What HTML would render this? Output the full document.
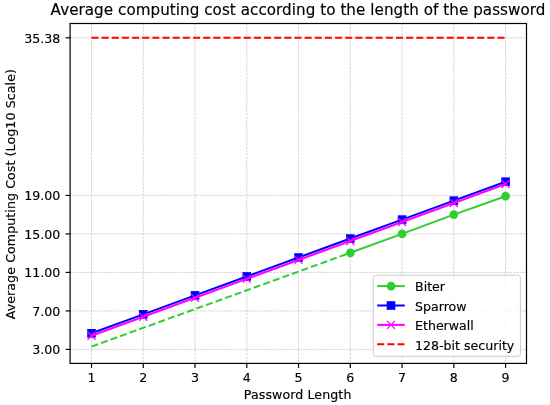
<!DOCTYPE html>
<html><head><meta charset="utf-8"><title>Average computing cost</title>
<style>
html,body{margin:0;padding:0;background:#fff;}
body{width:550px;height:405px;overflow:hidden;}
svg{display:block;filter:blur(0.45px);}
text{font-family:"DejaVu Sans","Liberation Sans",sans-serif;fill:#000;stroke:#000;stroke-width:0.15;}
.tk{font-size:12.6px;}
.ti{font-size:15.15px;}
.gr{stroke:#b0b0b0;stroke-width:0.55;stroke-dasharray:2.33 1.0;fill:none;}
.sp{stroke:#000;stroke-width:1.2;fill:none;}
</style></head><body>
<svg width="550" height="405" viewBox="0 0 550 405">
<rect x="0" y="0" width="550" height="405" fill="#ffffff"/>

<line class="gr" x1="91.50" y1="23.50" x2="91.50" y2="363.40"/>
<line class="gr" x1="143.26" y1="23.50" x2="143.26" y2="363.40"/>
<line class="gr" x1="195.02" y1="23.50" x2="195.02" y2="363.40"/>
<line class="gr" x1="246.78" y1="23.50" x2="246.78" y2="363.40"/>
<line class="gr" x1="298.54" y1="23.50" x2="298.54" y2="363.40"/>
<line class="gr" x1="350.30" y1="23.50" x2="350.30" y2="363.40"/>
<line class="gr" x1="402.06" y1="23.50" x2="402.06" y2="363.40"/>
<line class="gr" x1="453.82" y1="23.50" x2="453.82" y2="363.40"/>
<line class="gr" x1="505.58" y1="23.50" x2="505.58" y2="363.40"/>
<line class="gr" x1="70.10" y1="349.40" x2="526.50" y2="349.40"/>
<line class="gr" x1="70.10" y1="310.91" x2="526.50" y2="310.91"/>
<line class="gr" x1="70.10" y1="272.42" x2="526.50" y2="272.42"/>
<line class="gr" x1="70.10" y1="233.92" x2="526.50" y2="233.92"/>
<line class="gr" x1="70.10" y1="195.43" x2="526.50" y2="195.43"/>
<line class="gr" x1="70.10" y1="37.81" x2="526.50" y2="37.81"/>
<line x1="91.50" y1="37.81" x2="505.58" y2="37.81" stroke="#ff0000" stroke-width="2.0" stroke-dasharray="7 3.15"/>
<line x1="91.50" y1="346.60" x2="350.30" y2="252.80" stroke="#32cd32" stroke-width="2.0" stroke-dasharray="7 3.15"/>
<polyline fill="none" stroke="#32cd32" stroke-width="2.0" points="350.30,252.80 402.06,233.90 453.82,214.60 505.58,196.20"/>
<circle cx="350.30" cy="252.80" r="4.35" fill="#32cd32"/>
<circle cx="402.06" cy="233.90" r="4.35" fill="#32cd32"/>
<circle cx="453.82" cy="214.60" r="4.35" fill="#32cd32"/>
<circle cx="505.58" cy="196.20" r="4.35" fill="#32cd32"/>
<polyline fill="none" stroke="#0000ff" stroke-width="2.0" points="91.50,333.30 143.26,314.35 195.02,295.40 246.78,276.45 298.54,257.50 350.30,238.55 402.06,219.60 453.82,200.65 505.58,181.70"/>
<rect x="87.20" y="329.00" width="8.6" height="8.6" fill="#0000ff"/>
<rect x="138.96" y="310.05" width="8.6" height="8.6" fill="#0000ff"/>
<rect x="190.72" y="291.10" width="8.6" height="8.6" fill="#0000ff"/>
<rect x="242.48" y="272.15" width="8.6" height="8.6" fill="#0000ff"/>
<rect x="294.24" y="253.20" width="8.6" height="8.6" fill="#0000ff"/>
<rect x="346.00" y="234.25" width="8.6" height="8.6" fill="#0000ff"/>
<rect x="397.76" y="215.30" width="8.6" height="8.6" fill="#0000ff"/>
<rect x="449.52" y="196.35" width="8.6" height="8.6" fill="#0000ff"/>
<rect x="501.28" y="177.40" width="8.6" height="8.6" fill="#0000ff"/>
<polyline fill="none" stroke="#ff00ff" stroke-width="2.1" points="91.50,335.80 143.26,316.82 195.02,297.85 246.78,278.88 298.54,259.90 350.30,240.93 402.06,221.95 453.82,202.97 505.58,184.00"/>
<path d="M87.50 331.80l8 8m0 -8l-8 8" stroke="#ff00ff" stroke-width="1.26" fill="none"/>
<path d="M139.26 312.82l8 8m0 -8l-8 8" stroke="#ff00ff" stroke-width="1.26" fill="none"/>
<path d="M191.02 293.85l8 8m0 -8l-8 8" stroke="#ff00ff" stroke-width="1.26" fill="none"/>
<path d="M242.78 274.88l8 8m0 -8l-8 8" stroke="#ff00ff" stroke-width="1.26" fill="none"/>
<path d="M294.54 255.90l8 8m0 -8l-8 8" stroke="#ff00ff" stroke-width="1.26" fill="none"/>
<path d="M346.30 236.93l8 8m0 -8l-8 8" stroke="#ff00ff" stroke-width="1.26" fill="none"/>
<path d="M398.06 217.95l8 8m0 -8l-8 8" stroke="#ff00ff" stroke-width="1.26" fill="none"/>
<path d="M449.82 198.97l8 8m0 -8l-8 8" stroke="#ff00ff" stroke-width="1.26" fill="none"/>
<path d="M501.58 180.00l8 8m0 -8l-8 8" stroke="#ff00ff" stroke-width="1.26" fill="none"/>
<rect class="sp" x="70.10" y="23.50" width="456.40" height="339.90"/>
<line class="sp" x1="91.50" y1="363.40" x2="91.50" y2="367.90"/>
<text class="tk" x="91.50" y="382.0" text-anchor="middle">1</text>
<line class="sp" x1="143.26" y1="363.40" x2="143.26" y2="367.90"/>
<text class="tk" x="143.26" y="382.0" text-anchor="middle">2</text>
<line class="sp" x1="195.02" y1="363.40" x2="195.02" y2="367.90"/>
<text class="tk" x="195.02" y="382.0" text-anchor="middle">3</text>
<line class="sp" x1="246.78" y1="363.40" x2="246.78" y2="367.90"/>
<text class="tk" x="246.78" y="382.0" text-anchor="middle">4</text>
<line class="sp" x1="298.54" y1="363.40" x2="298.54" y2="367.90"/>
<text class="tk" x="298.54" y="382.0" text-anchor="middle">5</text>
<line class="sp" x1="350.30" y1="363.40" x2="350.30" y2="367.90"/>
<text class="tk" x="350.30" y="382.0" text-anchor="middle">6</text>
<line class="sp" x1="402.06" y1="363.40" x2="402.06" y2="367.90"/>
<text class="tk" x="402.06" y="382.0" text-anchor="middle">7</text>
<line class="sp" x1="453.82" y1="363.40" x2="453.82" y2="367.90"/>
<text class="tk" x="453.82" y="382.0" text-anchor="middle">8</text>
<line class="sp" x1="505.58" y1="363.40" x2="505.58" y2="367.90"/>
<text class="tk" x="505.58" y="382.0" text-anchor="middle">9</text>
<line class="sp" x1="65.60" y1="349.40" x2="70.10" y2="349.40"/>
<text class="tk" x="60.4" y="354.35" text-anchor="end">3.00</text>
<line class="sp" x1="65.60" y1="310.91" x2="70.10" y2="310.91"/>
<text class="tk" x="60.4" y="315.86" text-anchor="end">7.00</text>
<line class="sp" x1="65.60" y1="272.42" x2="70.10" y2="272.42"/>
<text class="tk" x="60.4" y="277.37" text-anchor="end">11.00</text>
<line class="sp" x1="65.60" y1="233.92" x2="70.10" y2="233.92"/>
<text class="tk" x="60.4" y="238.87" text-anchor="end">15.00</text>
<line class="sp" x1="65.60" y1="195.43" x2="70.10" y2="195.43"/>
<text class="tk" x="60.4" y="200.38" text-anchor="end">19.00</text>
<line class="sp" x1="65.60" y1="37.81" x2="70.10" y2="37.81"/>
<text class="tk" x="60.4" y="42.76" text-anchor="end">35.38</text>
<text class="ti" x="298" y="14.55" text-anchor="middle" textLength="494.8">Average computing cost according to the length of the password</text>
<text class="tk" x="297.6" y="399.4" text-anchor="middle" textLength="107.6">Password Length</text>
<text class="tk" transform="translate(15.3,194.2) rotate(-90)" text-anchor="middle" textLength="250.2">Average Computing Cost (Log10 Scale)</text>
<rect x="373.2" y="275.2" width="147.2" height="81.1" rx="2.5" ry="2.5" fill="#ffffff" fill-opacity="0.8" stroke="#cccccc" stroke-width="1"/>
<line x1="377.2" y1="286.10" x2="404.8" y2="286.10" stroke="#32cd32" stroke-width="2.0"/>
<circle cx="391" cy="286.10" r="4.35" fill="#32cd32"/>
<text class="tk" x="415" y="291.40">Biter</text>
<line x1="377.2" y1="305.50" x2="404.8" y2="305.50" stroke="#0000ff" stroke-width="2.0"/>
<rect x="386.7" y="301.20" width="8.6" height="8.6" fill="#0000ff"/>
<text class="tk" x="415" y="310.80">Sparrow</text>
<line x1="377.2" y1="324.90" x2="404.8" y2="324.90" stroke="#ff00ff" stroke-width="2.0"/>
<path d="M387.00 320.90l8 8m0 -8l-8 8" stroke="#ff00ff" stroke-width="1.26" fill="none"/>
<text class="tk" x="415" y="330.20">Etherwall</text>
<line x1="377.2" y1="344.30" x2="404.8" y2="344.30" stroke="#ff0000" stroke-width="2.0" stroke-dasharray="7 3.15"/>
<text class="tk" x="415" y="349.60">128-bit security</text>
</svg></body></html>
